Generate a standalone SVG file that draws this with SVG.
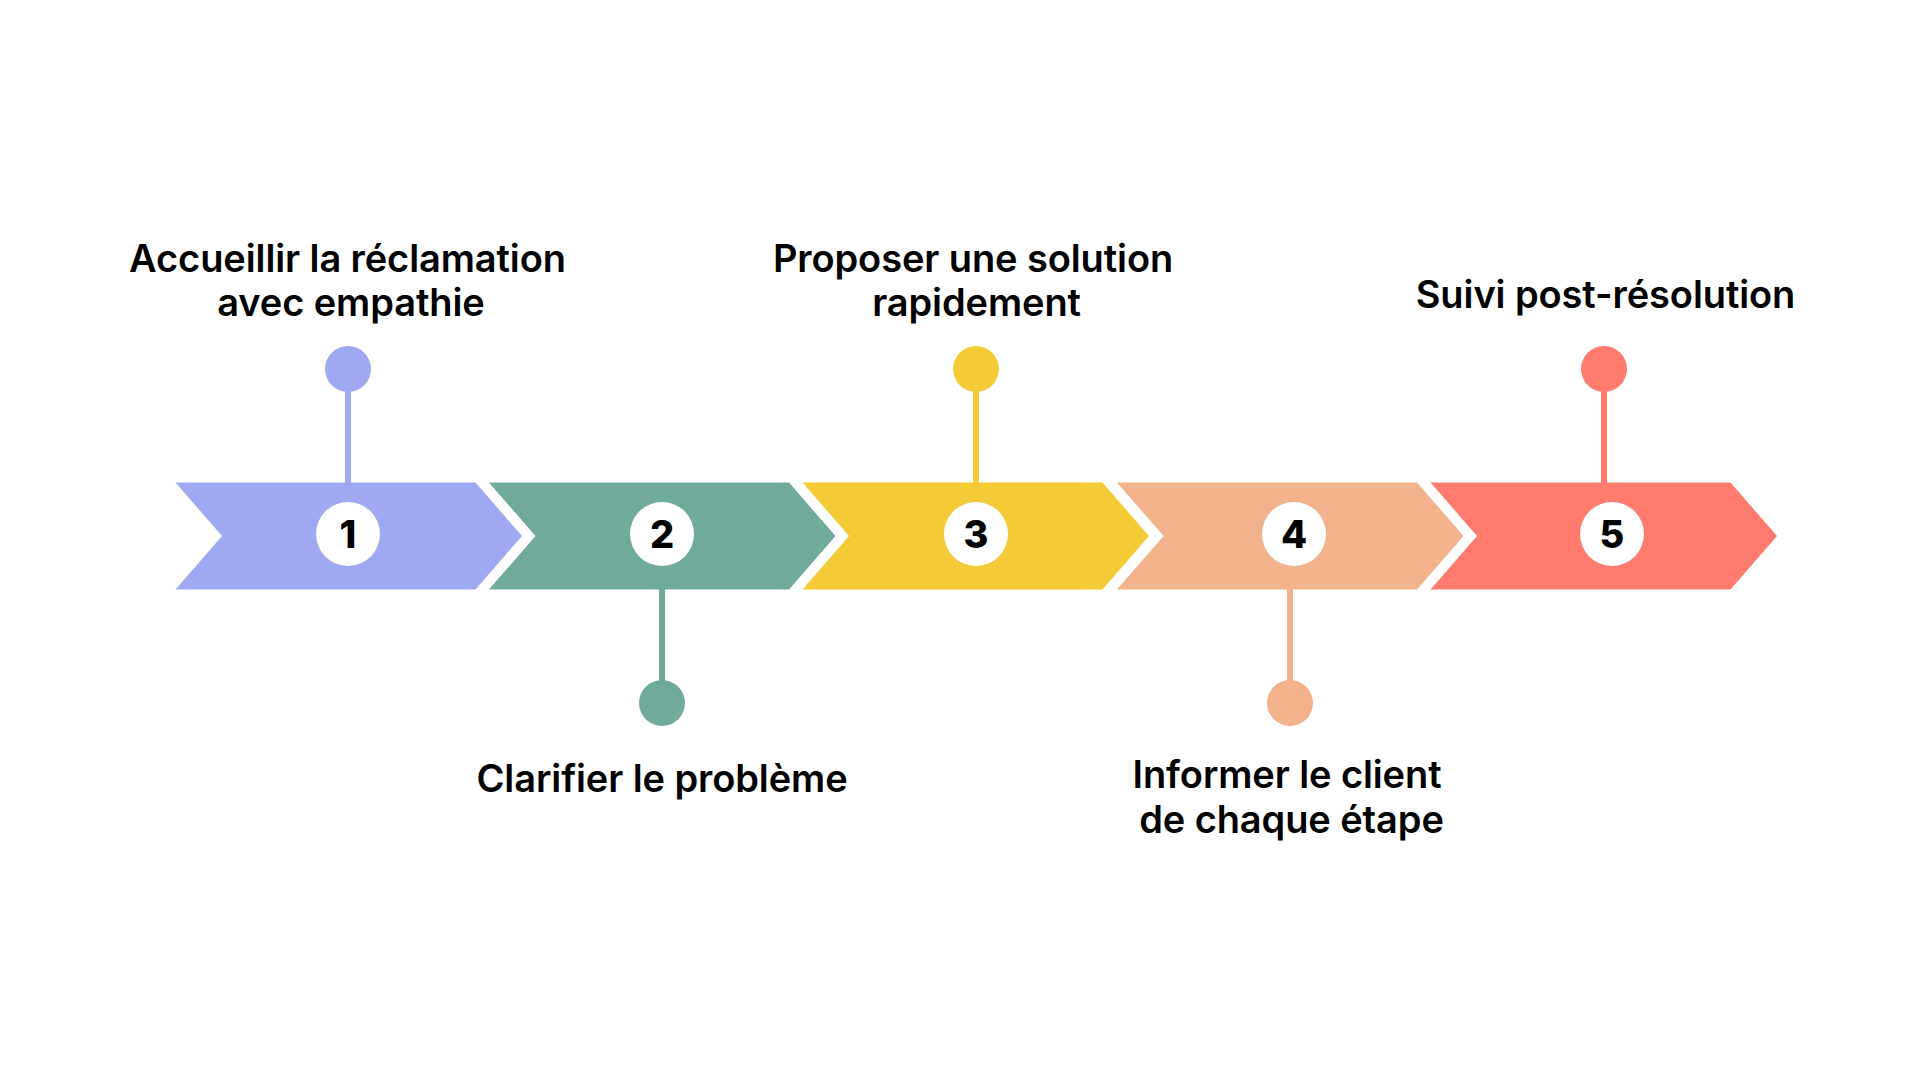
<svg xmlns="http://www.w3.org/2000/svg" width="1920" height="1080" viewBox="0 0 1920 1080">
<style>
.lbl{font-family:Inter,"Liberation Sans",sans-serif;font-weight:600;font-size:38px;fill:#000;text-anchor:middle;letter-spacing:-0.1px}
.num{font-family:Inter,"Liberation Sans",sans-serif;font-weight:800;font-size:38px;fill:#000;text-anchor:middle}
.stem{stroke-width:6;fill:none}
</style>
<rect width="1920" height="1080" fill="#fff"/>
<g id="connectors">
<line class="stem" x1="348" y1="369" x2="348" y2="483" stroke="#9EA9F1"/>
<line class="stem" x1="662" y1="589" x2="662" y2="703" stroke="#70AA9B"/>
<line class="stem" x1="976" y1="369" x2="976" y2="483" stroke="#F5CA37"/>
<line class="stem" x1="1290" y1="589" x2="1290" y2="703" stroke="#F2B28B"/>
<line class="stem" x1="1604" y1="369" x2="1604" y2="483" stroke="#FF7B6E"/>
</g>
<g id="step1">
<polygon points="175.5,482.5 475.5,482.5 522,536 475.5,589.5 175.5,589.5 222,536" fill="#9EA9F1"/>
<circle cx="348" cy="534" r="32" fill="#fff"/>
<text class="num" x="348" y="548">1</text>
<circle cx="348" cy="369" r="23" fill="#9EA9F1"/>
<text class="lbl" x="347.5" y="272">Accueillir la réclamation</text>
<text class="lbl" x="351" y="315.5">avec empathie</text>
</g>
<g id="step2">
<polygon points="489,482.5 789,482.5 835.5,536 789,589.5 489,589.5 535.5,536" fill="#70AA9B"/>
<circle cx="662" cy="534" r="32" fill="#fff"/>
<text class="num" x="662" y="548">2</text>
<circle cx="662" cy="703" r="23" fill="#70AA9B"/>
<text class="lbl" x="662" y="792">Clarifier le problème</text>
</g>
<g id="step3">
<polygon points="802.5,482.5 1102.5,482.5 1149,536 1102.5,589.5 802.5,589.5 849,536" fill="#F5CA37"/>
<circle cx="976" cy="534" r="32" fill="#fff"/>
<text class="num" x="976" y="548">3</text>
<circle cx="976" cy="369" r="23" fill="#F5CA37"/>
<text class="lbl" x="973" y="272">Proposer une solution</text>
<text class="lbl" x="976.5" y="315.5">rapidement</text>
</g>
<g id="step4">
<polygon points="1117,482.5 1417,482.5 1463.5,536 1417,589.5 1117,589.5 1163.5,536" fill="#F2B28B"/>
<circle cx="1294" cy="534" r="32" fill="#fff"/>
<text class="num" x="1294" y="548">4</text>
<circle cx="1290" cy="703" r="23" fill="#F2B28B"/>
<text class="lbl" x="1287" y="788">Informer le client</text>
<text class="lbl" x="1291.5" y="833">de chaque étape</text>
</g>
<g id="step5">
<polygon points="1430.5,482.5 1730.5,482.5 1777,536 1730.5,589.5 1430.5,589.5 1477,536" fill="#FF7B6E"/>
<circle cx="1612" cy="534" r="32" fill="#fff"/>
<text class="num" x="1612" y="548">5</text>
<circle cx="1604" cy="369" r="23" fill="#FF7B6E"/>
<text class="lbl" x="1605.5" y="308">Suivi post-résolution</text>
</g>
</svg>
